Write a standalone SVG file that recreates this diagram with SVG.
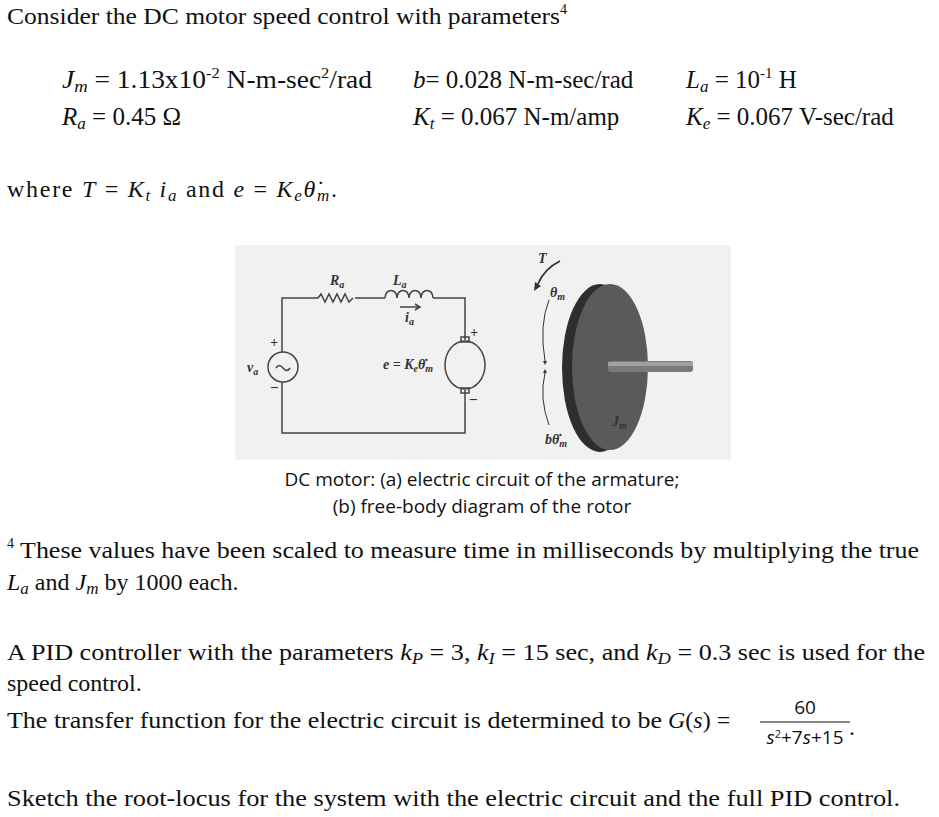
<svg xmlns="http://www.w3.org/2000/svg" width="939" height="817" viewBox="0 0 939 817">
<style>
.t{font-family:"Liberation Serif",serif;font-size:24px;fill:#111}
.p{font-size:25px}
.i{font-style:italic}
.c{font-family:"Open Sans","Noto Sans",sans-serif;font-size:19px;fill:#111}
.f{font-family:"Liberation Serif",serif;font-style:italic;font-size:14px;font-weight:bold;fill:#333}
.w{fill:none;stroke:#444;stroke-width:1.5}
</style>
<rect width="939" height="817" fill="#fff"/>
<text class="t" x="7" y="24"><tspan textLength="553" lengthAdjust="spacingAndGlyphs">Consider the DC motor speed control with parameters</tspan><tspan font-size="14" dy="-10">4</tspan></text>
<g id="params">
<text class="t p" x="62" y="88" textLength="310" lengthAdjust="spacingAndGlyphs"><tspan class="i">J<tspan font-size="17" dy="4">m</tspan></tspan><tspan dy="-4"> = 1.13x10</tspan><tspan font-size="15" dy="-10">-2</tspan><tspan dy="10"> N-m-sec</tspan><tspan font-size="15" dy="-10">2</tspan><tspan dy="10">/rad</tspan></text>
<text class="t p" x="413" y="88"><tspan class="i">b</tspan>= 0.028 N-m-sec/rad</text>
<text class="t p" x="686" y="88"><tspan class="i">L<tspan font-size="17" dy="4">a</tspan></tspan><tspan dy="-4"> = 10</tspan><tspan font-size="15" dy="-10">-1</tspan><tspan dy="10"> H</tspan></text>
<text class="t p" x="62" y="125"><tspan class="i">R<tspan font-size="17" dy="4">a</tspan></tspan><tspan dy="-4"> = 0.45 Ω</tspan></text>
<text class="t p" x="413" y="125"><tspan class="i">K<tspan font-size="17" dy="4">t</tspan></tspan><tspan dy="-4"> = 0.067 N-m/amp</tspan></text>
<text class="t p" x="686" y="125"><tspan class="i">K<tspan font-size="17" dy="4">e</tspan></tspan><tspan dy="-4"> = 0.067 V-sec/rad</tspan></text>
</g>
<text class="t" x="7" y="197" textLength="330">where <tspan class="i">T</tspan> = <tspan class="i">K<tspan font-size="17" dy="4">t</tspan><tspan dy="-4"> i</tspan><tspan font-size="17" dy="4">a</tspan></tspan><tspan dy="-4"> and </tspan><tspan class="i">e</tspan> = <tspan class="i">K<tspan font-size="17" dy="4">e</tspan><tspan dy="-4">θ̇</tspan><tspan font-size="17" dy="4">m</tspan></tspan><tspan dy="-4">.</tspan></text>

<g id="figure">
<rect x="235" y="245" width="496" height="215" fill="#f1f1f1"/>
<g id="circuit">
<path class="w" d="M282 352V298H318M355 298H385M433 298H465V340M465 390V433H282V382"/>
<path class="w" d="M318 298l3-4 4 8 4-8 4 8 4-8 4 8 4-8 4 8 4-4"/>
<path class="w" d="M385 298c0-10 12-10 12 0c0-10 12-10 12 0c0-10 12-10 12 0c0-10 12-10 12 0"/>
<path class="w" d="M400 307h20m-5-3l5 3-5 3"/>
<circle class="w" cx="283" cy="367" r="15"/>
<path class="w" d="M276 368q3-5 7 0t7 0"/>
<ellipse class="w" cx="465" cy="365" rx="20" ry="24"/>
<rect class="w" x="461" y="337" width="8" height="5"/>
<rect class="w" x="461" y="388" width="8" height="5"/>
<text class="f" x="330" y="285">R<tspan font-size="10" dy="3">a</tspan></text>
<text class="f" x="393" y="285">L<tspan font-size="10" dy="3">a</tspan></text>
<text class="f" x="405" y="322">i<tspan font-size="10" dy="3">a</tspan></text>
<text class="f" x="247" y="372">v<tspan font-size="10" dy="3">a</tspan></text>
<text class="f" x="383" y="369">e = K<tspan font-size="10" dy="3">e</tspan><tspan dy="-3">θ̇</tspan><tspan font-size="10" dy="3">m</tspan></text>
<text class="f" x="270" y="347">+</text>
<text class="f" x="271" y="391">–</text>
<text class="f" x="470" y="337">+</text>
<text class="f" x="470" y="403">–</text>
</g>
<g id="rotor">
<path d="M560 261q-16 8-22 23" fill="none" stroke="#333" stroke-width="1.8"/>
<path d="M534 291l1-9 6 4z" fill="#333"/>
<path d="M549 300q-10 25-4 61M545 373q-6 25 4 52" fill="none" stroke="#333" stroke-width="1"/>
<path d="M543 361l2 4 2-4zM543 373l2-4 2 4z" fill="#333"/>
<text class="f" x="538" y="263">T</text>
<text class="f" x="550" y="297">θ<tspan font-size="10" dy="3">m</tspan></text>
<text class="f" x="545" y="444">bθ̇<tspan font-size="10" dy="3">m</tspan></text>
<ellipse cx="600" cy="368" rx="38" ry="84" fill="#2e2e2e"/>
<ellipse cx="610" cy="367" rx="38" ry="83" fill="#5a5a5a"/>
<rect x="608" y="361" width="85" height="11" rx="3" fill="#7a7a7a"/>
<rect x="608" y="362" width="85" height="4" fill="#a0a0a0"/>
<text class="f" x="612" y="426" fill="#222">J<tspan font-size="10" dy="3">m</tspan></text>
</g>
</g>
<text class="c" x="482" y="486" text-anchor="middle">DC motor: (a) electric circuit of the armature;</text>
<text class="c" x="482" y="513" text-anchor="middle">(b) free-body diagram of the rotor</text>

<text class="t" x="7" y="558"><tspan font-size="14" dy="-10">4</tspan><tspan dy="10" textLength="905" lengthAdjust="spacingAndGlyphs"> These values have been scaled to measure time in milliseconds by multiplying the true</tspan></text>
<text class="t" x="7" y="590"><tspan class="i">L<tspan font-size="17" dy="4">a</tspan></tspan><tspan dy="-4"> and </tspan><tspan class="i">J<tspan font-size="17" dy="4">m</tspan></tspan><tspan dy="-4"> by 1000 each.</tspan></text>
<text class="t" x="7" y="660" textLength="918" lengthAdjust="spacingAndGlyphs">A PID controller with the parameters <tspan class="i">k<tspan font-size="17" dy="4">P</tspan></tspan><tspan dy="-4"> = 3, </tspan><tspan class="i">k<tspan font-size="17" dy="4">I</tspan></tspan><tspan dy="-4"> = 15 sec, and </tspan><tspan class="i">k<tspan font-size="17" dy="4">D</tspan></tspan><tspan dy="-4"> = 0.3 sec is used for the</tspan></text>
<text class="t" x="7" y="691">speed control.</text>
<text class="t" x="7" y="728"><tspan textLength="655" lengthAdjust="spacingAndGlyphs">The transfer function for the electric circuit is determined to be</tspan> <tspan class="i">G</tspan>(<tspan class="i">s</tspan>)  =</text>
<text class="c" x="805" y="714" font-size="15" text-anchor="middle">60</text>
<line x1="760" y1="722" x2="850" y2="722" stroke="#111" stroke-width="1.2"/>
<text class="c" x="805" y="744" font-size="16" text-anchor="middle"><tspan font-style="italic">s</tspan><tspan font-size="11" dy="-6">2</tspan><tspan dy="6">+7</tspan><tspan font-style="italic">s</tspan>+15</text>
<text class="t" x="849" y="735">.</text>
<text class="t" x="7" y="806" textLength="893" lengthAdjust="spacingAndGlyphs">Sketch the root-locus for the system with the electric circuit and the full PID control.</text>
</svg>
